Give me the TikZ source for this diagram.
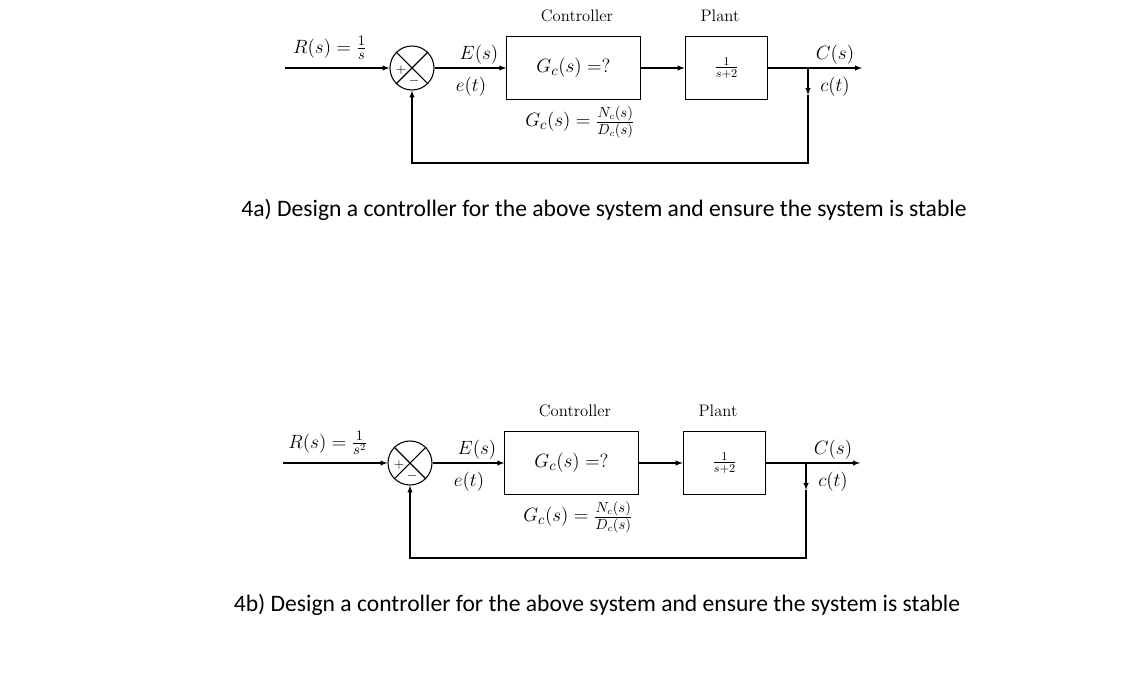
\documentclass[tikz,border=0pt]{standalone}
\usepackage{amsmath}
\usepackage{fontspec}
\newfontfamily\notefont{Carlito}
\usetikzlibrary{shapes,arrows,calc,positioning}

\tikzset{
  blk/.style={draw, thick, minimum width=#1, minimum height=47pt, inner sep=0pt},
  sumnode/.style={draw, thick, circle, minimum size=33pt, inner sep=0pt},
  lbl/.style={font=\fontsize{12.5}{15}\selectfont},
  sig/.style={font=\fontsize{15}{18}\selectfont},
  note/.style={font=\notefont\fontsize{17.7}{21}\selectfont},
  wire/.style={thick,->,>=latex}
}

% one feedback loop, #1 = prefix, #2 = input
\newcommand{\fbloop}[2]{%
  \node [sumnode] (#1sum) at (412,68) {};
  \draw [thick] (#1sum.north west) -- (#1sum.south east);
  \draw [thick] (#1sum.north east) -- (#1sum.south west);
  \node [font=\normalsize, inner sep=0pt] (#1plus) at (401,70) {$+$};
  \node [font=\normalsize, inner sep=0pt] (#1minus) at (414,81) {$-$};
  \coordinate (#1in) at (285,68);
  \node [blk=100pt] (#1ctrl) at (573.5,68) {\fontsize{15}{18}\selectfont$G_c(s) =?$};
  \node [blk=62pt, font=\fontsize{13}{15}\selectfont] (#1plant) at (726.5,68) {$\frac{1}{s+2}$};
  \coordinate (#1out) at (862,68);
  \coordinate (#1br) at (808,68);
  \coordinate (#1bot) at (808,163);
  \coordinate (#1mid) at (808,95);
  \node [lbl] (#1ctrllab) at (577,16) {Controller};
  \node [lbl] (#1plantlab) at (720,16) {Plant};
  \node [sig] (#1gc) at (580,122) {$G_c(s) = \frac{N_c(s)}{D_c(s)}$};
  \node [sig] (#1rlab) at (330,48) {#2};
  \node [sig] (#1E) at (479,55) {$E(s)$};
  \node [sig] (#1e) at (471,87) {$e(t)$};
  \node [sig] (#1C) at (835,55) {$C(s)$};
  \node [sig] (#1c) at (835,87) {$c(t)$};
  \draw [wire] (#1in) -- (#1sum.west);
  \draw [wire] (#1sum.east) -- (#1ctrl.west);
  \draw [wire] (#1ctrl.east) -- (#1plant.west);
  \draw [wire] (#1plant.east) -- (#1out);
  \draw [wire] (#1br) -- (#1mid);
  \draw [wire] (#1mid) -- (#1bot) -| (#1sum.south);
}

\begin{document}
\begin{tikzpicture}[x=0.75pt,y=-0.75pt]
  \useasboundingbox (0,0) rectangle (1145,677);

  \begin{scope}
    \fbloop{a}{$R(s) = \frac{1}{s}$}
  \end{scope}
  \node [note] (notea) at (604,210) {4a) Design a controller for the above system and ensure the system is stable};

  \begin{scope}[shift={(-2,395)}]
    \fbloop{b}{$R(s) = \frac{1}{s^2}$}
  \end{scope}
  \node [note] (noteb) at (597,605) {4b) Design a controller for the above system and ensure the system is stable};
\end{tikzpicture}
\end{document}
